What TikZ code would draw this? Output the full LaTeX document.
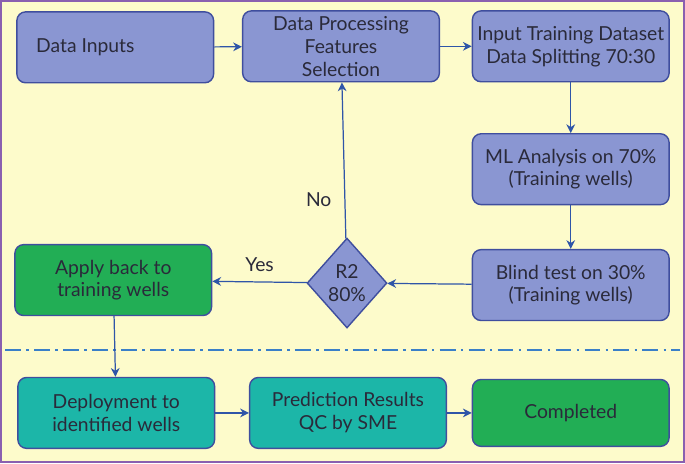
\documentclass[tikz,border=0pt]{standalone}
\usepackage{fontspec}
\setmainfont{Lato}
\usetikzlibrary{shapes.geometric,arrows.meta}
\definecolor{bgy}{HTML}{FDFBCB}
\definecolor{pur}{HTML}{8A96D2}
\definecolor{purd}{HTML}{3F4E9E}
\definecolor{grn}{HTML}{22AE55}
\definecolor{tea}{HTML}{1CB6A8}
\definecolor{arr}{HTML}{2F55A8}
\definecolor{dsh}{HTML}{3A7FC8}
\definecolor{txt}{HTML}{2A2A3A}
\definecolor{frm}{HTML}{8A5FB0}
\begin{document}
\begin{tikzpicture}[x=0.02cm,y=-0.02cm,
 box/.style={draw=purd,line width=0.8pt,rounded corners=5pt,minimum width=3.94cm,minimum height=1.42cm,align=center,font=\fontsize{11}{13}\selectfont,text=txt,inner sep=1pt},
 pb/.style={box,fill=pur},
 gb/.style={box,fill=grn},
 tb/.style={box,fill=tea},
 lbl/.style={font=\fontsize{11}{13}\selectfont,text=txt},
 ar/.style={-{Stealth[length=5pt,width=5pt]},draw=arr,line width=0.7pt}]
\fill[bgy] (0,0) rectangle (685,463);
\draw[draw=frm,line width=1pt] (0.5,0.5) rectangle (684.5,462.5);
\draw[dsh,line width=1.4pt,dash pattern=on 9pt off 3pt on 1.5pt off 3pt] (5,350) -- (680,350);
\node[pb] (a) at (115,47) {Data Inputs\hspace*{1.2cm}};
\node[pb] (b) at (341,46) {Data Processing\\Features\\Selection};
\node[pb] (c) at (571,46) {Input Training Dataset\\Data Splitting 70:30};
\node[pb] (d) at (571,169) {ML Analysis on 70\%\\(Training wells)};
\node[pb] (e) at (571,285) {Blind test on 30\%\\(Training wells)};
\node[diamond,draw=purd,fill=pur,line width=0.8pt,minimum width=1.6cm,minimum height=1.8cm,inner sep=0pt,align=center,lbl] (r) at (347,283) {R2\\80\%};
\node[gb] (f) at (113,280) {Apply back to\\training wells};
\node[tb] (g) at (116,413) {Deployment to\\identified wells};
\node[tb] (h) at (348,413) {Prediction Results\\QC by SME};
\node[gb,minimum height=1.34cm] (i) at (571,413) {Completed};
\draw[ar] (a) -- (b);
\draw[ar] (b) -- (c);
\draw[ar] (c) -- (d);
\draw[ar] (d) -- (e);
\draw[ar] (e) -- (r);
\draw[ar] (r) -- node[above,lbl,yshift=2pt]{Yes} (f);
\draw[ar] (r) -- node[left,lbl,xshift=-4pt,pos=0.25]{No} (b);
\draw[ar] (f) -- (g);
\draw[ar] (g) -- (h);
\draw[ar] (h) -- (i);
\end{tikzpicture}
\end{document}
